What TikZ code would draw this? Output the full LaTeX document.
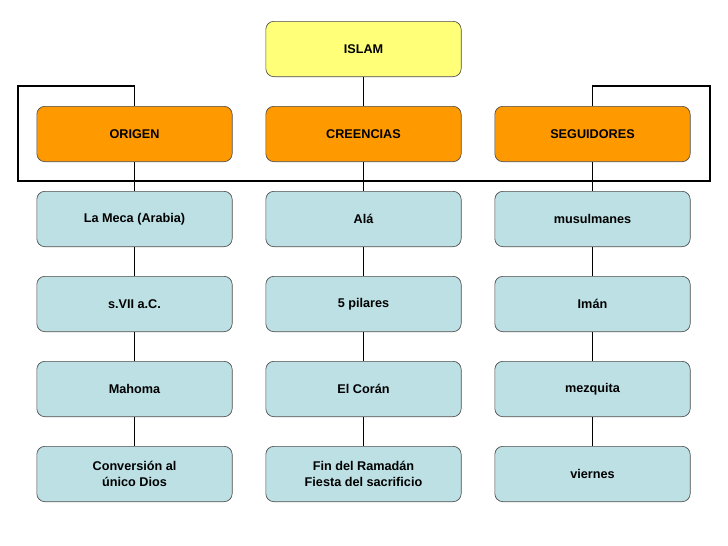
\documentclass[tikz,border=0pt]{standalone}
\usepackage{fontspec}
\setmainfont{Liberation Sans}
\begin{document}
\begin{tikzpicture}[x=0.75pt,y=-0.75pt,
 box/.style={draw=black!70,rounded corners=6pt,minimum width=146.5pt,minimum height=41.5pt,align=center,font=\bfseries\fontsize{9.5pt}{11.5pt}\selectfont,line width=0.5pt},
 top/.style={box,fill=yellow!55!white!95!yellow},
 org/.style={box,fill=orange!90!yellow},
 blu/.style={box,fill=cyan!20!gray!25!white},
 ln/.style={line width=0.8pt}]
\useasboundingbox (0,0) rectangle (728,546);
\definecolor{yl}{RGB}{255,255,120}
\definecolor{og}{RGB}{255,153,0}
\definecolor{lb}{RGB}{188,224,228}
\tikzset{top/.append style={fill=yl},org/.append style={fill=og},blu/.append style={fill=lb}}
\node[top] (islam) at (363.5,49) {ISLAM};
\node[org] (o) at (134.5,134) {ORIGEN};
\node[org] (c) at (363.5,134) {CREENCIAS};
\node[org] (s) at (592.5,134) {SEGUIDORES};
\node[blu] (o1) at (134.5,219) {La Meca (Arabia)};
\node[blu] (o2) at (134.5,304) {s.VII a.C.};
\node[blu] (o3) at (134.5,389) {Mahoma};
\node[blu] (o4) at (134.5,474) {Conversión al\\ único Dios};
\node[blu] (c1) at (363.5,219) {Alá};
\node[blu] (c2) at (363.5,304) {5 pilares};
\node[blu] (c3) at (363.5,389) {El Corán};
\node[blu] (c4) at (363.5,474) {Fin del Ramadán\\Fiesta del sacrificio};
\node[blu] (s1) at (592.5,219) {musulmanes};
\node[blu] (s2) at (592.5,304) {Imán};
\node[blu] (s3) at (592.5,389) {mezquita};
\node[blu] (s4) at (592.5,474) {viernes};
\coordinate (a1) at (134.5,86); \coordinate (a2) at (18,86);
\coordinate (a3) at (18,181); \coordinate (a4) at (710,181);
\coordinate (a5) at (710,86); \coordinate (a6) at (592.5,86);
\draw[ln] (o.north) -- (a1) -- (a2) -- (a3) -- (a4) -- (a5) -- (a6) -- (s.north);
\draw[ln] (islam) -- (c);
\foreach \p in {o,c,s}{
 \draw[ln] (\p) -- (\p1); \draw[ln] (\p1) -- (\p2); \draw[ln] (\p2) -- (\p3); \draw[ln] (\p3) -- (\p4);}
\end{tikzpicture}
\end{document}
